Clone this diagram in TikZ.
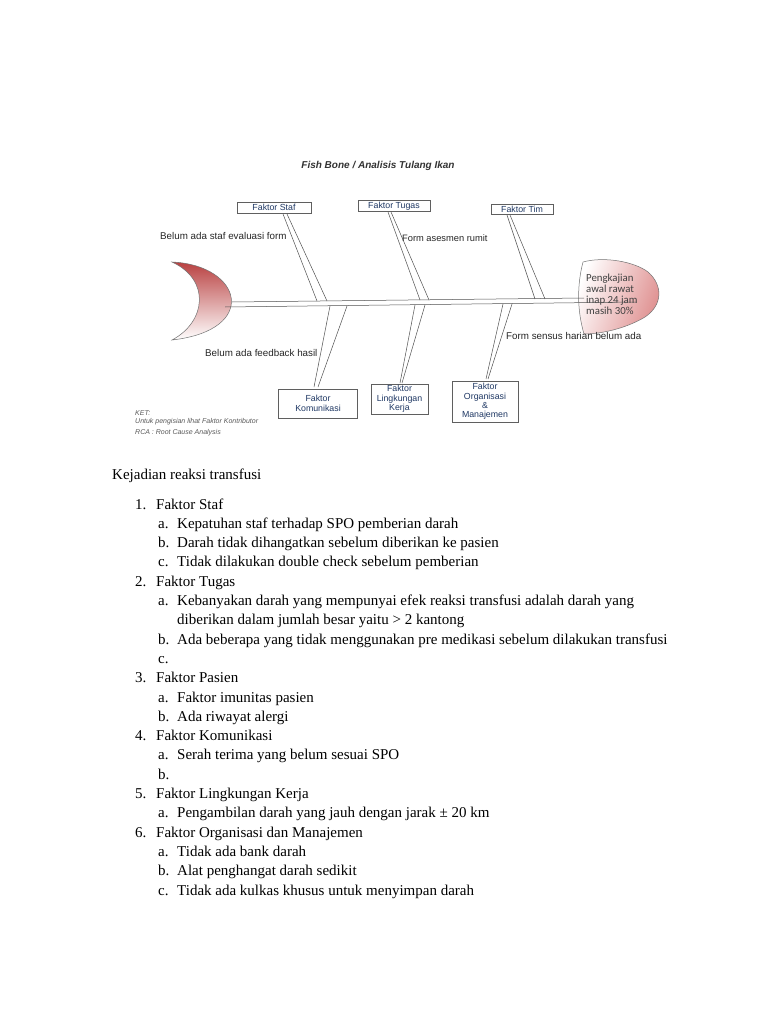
\documentclass[tikz,border=0pt]{standalone}
\usepackage{fontspec}
\setmainfont{Liberation Serif}
\newfontfamily\arial{Liberation Sans}
\newfontfamily\calib{Carlito}
\definecolor{boxline}{RGB}{95,95,95}
\definecolor{boxtext}{RGB}{31,56,100}
\definecolor{bonecol}{RGB}{80,80,80}
\definecolor{headred}{RGB}{185,65,65}
\definecolor{blobpink}{RGB}{222,140,140}
\definecolor{ketgray}{RGB}{90,90,90}
\tikzset{
  box/.style={draw=boxline, line width=0.6pt, fill=white, inner sep=0pt, align=center,
    font=\arial\fontsize{8.8}{9.4}\selectfont, text=boxtext},
  lbl/.style={anchor=west, inner sep=0pt, font=\arial\fontsize{9.8}{11}\selectfont, text=black!85},
  bonel/.style={draw=bonecol, line width=0.5pt},
  ket/.style={anchor=west, inner sep=0pt, font=\arial\itshape\fontsize{7}{8}\selectfont, text=ketgray},
  ln/.style={anchor=base west, inner sep=0pt, font=\fontsize{15}{18}\selectfont},
}
\begin{document}
\begin{tikzpicture}[x=1pt,y=-1pt]
\useasboundingbox[fill=white] (0,0) rectangle (768,1024);

% title
\node[inner sep=0pt, font=\arial\bfseries\itshape\fontsize{10}{12}\selectfont, text=black!80] (title) at (378,166) {Fish Bone / Analisis Tulang Ikan};

% fish head (left crescent)
\path[draw=black!55, line width=0.5pt, top color=headred, bottom color=white]
  (172,262) .. controls (242,265) and (260,330) .. (172,340)
  .. controls (206,322) and (211,280) .. (172,262) -- cycle;

% right blob (problem)
\path[draw=black!55, line width=0.5pt, left color=white, right color=blobpink, shading angle=70]
  (583,262) .. controls (605,256) and (635,262) .. (648,272)
  .. controls (663,285) and (663,305) .. (645,317)
  .. controls (625,329) and (600,334) .. (584,334)
  .. controls (577,310) and (577,285) .. (583,262) -- cycle;
\node[anchor=north west, inner sep=0pt, align=left, font=\calib\fontsize{10.8}{11}\selectfont, text=black!75] (prob) at (586,273.5)
  {Pengkajian\\awal rawat\\inap 24 jam\\masih 30\%};

% spine
\coordinate (spA0) at (232,302);
\coordinate (spA1) at (584,298);
\coordinate (spB0) at (225,307);
\coordinate (spB1) at (636,302);
\draw[bonel] (spA0) -- (spA1);
\draw[bonel] (spB0) -- (spB1);

% boxes
\node[box, minimum width=74pt, minimum height=11pt] (staf) at (274,207.5) {Faktor Staf};
\node[box, minimum width=72pt, minimum height=10.5pt] (tugas) at (394,206) {Faktor Tugas};
\node[box, minimum width=62pt, minimum height=10pt] (tim) at (522,209) {Faktor Tim};
\node[box, minimum width=79pt, minimum height=29pt] (kom) at (318,403.5) {Faktor\\Komunikasi};
\node[box, minimum width=57pt, minimum height=30pt] (ling) at (399.5,399) {Faktor\\Lingkungan\\Kerja};
\node[box, minimum width=66pt, minimum height=41pt] (org) at (485,401.5) {Faktor\\Organisasi\\\&\\Manajemen};

% bones (upper)
\coordinate (b1a) at (283,214); \coordinate (b1b) at (287,214);
\coordinate (s1a) at (317,301); \coordinate (s1b) at (327,301);
\draw[bonel] (b1a) -- (s1a); \draw[bonel] (b1b) -- (s1b);
\coordinate (b2a) at (388,212); \coordinate (b2b) at (391,212);
\coordinate (s2a) at (420,300); \coordinate (s2b) at (429,300);
\draw[bonel] (b2a) -- (s2a); \draw[bonel] (b2b) -- (s2b);
\coordinate (b3a) at (507,215); \coordinate (b3b) at (510,215);
\coordinate (s3a) at (535,299); \coordinate (s3b) at (545,299);
\draw[bonel] (b3a) -- (s3a); \draw[bonel] (b3b) -- (s3b);
% bones (lower)
\coordinate (b4a) at (314,387); \coordinate (b4b) at (318,387);
\coordinate (s4a) at (330,306); \coordinate (s4b) at (347,306);
\draw[bonel] (s4a) -- (b4a); \draw[bonel] (s4b) -- (b4b);
\coordinate (b5a) at (400,383); \coordinate (b5b) at (402,383);
\coordinate (s5a) at (415,305); \coordinate (s5b) at (425,305);
\draw[bonel] (s5a) -- (b5a); \draw[bonel] (s5b) -- (b5b);
\coordinate (b6a) at (486,379); \coordinate (b6b) at (488,379);
\coordinate (s6a) at (503,304); \coordinate (s6b) at (512,304);
\draw[bonel] (s6a) -- (b6a); \draw[bonel] (s6b) -- (b6b);

% cause labels
\node[lbl] (c1) at (160,235.5) {Belum ada staf evaluasi form};
\node[lbl, font=\arial\fontsize{9.3}{11}\selectfont] (c2) at (402,238.5) {Form asesmen rumit};
\node[lbl] (c3) at (205,352.5) {Belum ada feedback hasil};
\node[lbl] (c4) at (506,336) {Form sensus harian belum ada};

% KET
\node[ket] (k1) at (135,413) {KET:};
\node[ket] (k2) at (135,421.5) {Untuk pengisian lihat Faktor Kontributor};
\node[ket] (k3) at (135,433) {RCA : Root Cause Analysis};

% list text
\node[ln] (h0) at (112,479) {Kejadian reaksi transfusi};
\node[ln] (n1) at (135,509) {1.};   \node[ln] (t1) at (156,509) {Faktor Staf};
\node[ln] (a1) at (158,528.3) {a.}; \node[ln] (u1) at (177,528.3) {Kepatuhan staf terhadap SPO pemberian darah};
\node[ln] (a2) at (158,547.6) {b.}; \node[ln] (u2) at (177,547.6) {Darah tidak dihangatkan sebelum diberikan ke pasien};
\node[ln] (a3) at (158,566.9) {c.}; \node[ln] (u3) at (177,566.9) {Tidak dilakukan double check sebelum pemberian};
\node[ln] (n2) at (135,586.2) {2.}; \node[ln] (t2) at (156,586.2) {Faktor Tugas};
\node[ln] (a4) at (158,605.5) {a.}; \node[ln] (u4) at (177,605.5) {Kebanyakan darah yang mempunyai efek reaksi transfusi adalah darah yang};
\node[ln] (u4b) at (177,624.8) {diberikan dalam jumlah besar yaitu > 2 kantong};
\node[ln] (a5) at (158,644.1) {b.}; \node[ln] (u5) at (177,644.1) {Ada beberapa yang tidak menggunakan pre medikasi sebelum dilakukan transfusi};
\node[ln] (a6) at (158,663.4) {c.};
\node[ln] (n3) at (135,682.7) {3.}; \node[ln] (t3) at (156,682.7) {Faktor Pasien};
\node[ln] (a7) at (158,702) {a.};   \node[ln] (u7) at (177,702) {Faktor imunitas pasien};
\node[ln] (a8) at (158,721.3) {b.}; \node[ln] (u8) at (177,721.3) {Ada riwayat alergi};
\node[ln] (n4) at (135,740.6) {4.}; \node[ln] (t4) at (156,740.6) {Faktor Komunikasi};
\node[ln] (a9) at (158,759.9) {a.}; \node[ln] (u9) at (177,759.9) {Serah terima yang belum sesuai SPO};
\node[ln] (a10) at (158,779.2) {b.};
\node[ln] (n5) at (135,798.5) {5.}; \node[ln] (t5) at (156,798.5) {Faktor Lingkungan Kerja};
\node[ln] (a11) at (158,817.8) {a.}; \node[ln] (u11) at (177,817.8) {Pengambilan darah yang jauh dengan jarak ± 20 km};
\node[ln] (n6) at (135,837.1) {6.}; \node[ln] (t6) at (156,837.1) {Faktor Organisasi dan Manajemen};
\node[ln] (a12) at (158,856.4) {a.}; \node[ln] (u12) at (177,856.4) {Tidak ada bank darah};
\node[ln] (a13) at (158,875.7) {b.}; \node[ln] (u13) at (177,875.7) {Alat penghangat darah sedikit};
\node[ln] (a14) at (158,895) {c.};   \node[ln] (u14) at (177,895) {Tidak ada kulkas khusus untuk menyimpan darah};
\end{tikzpicture}
\end{document}
